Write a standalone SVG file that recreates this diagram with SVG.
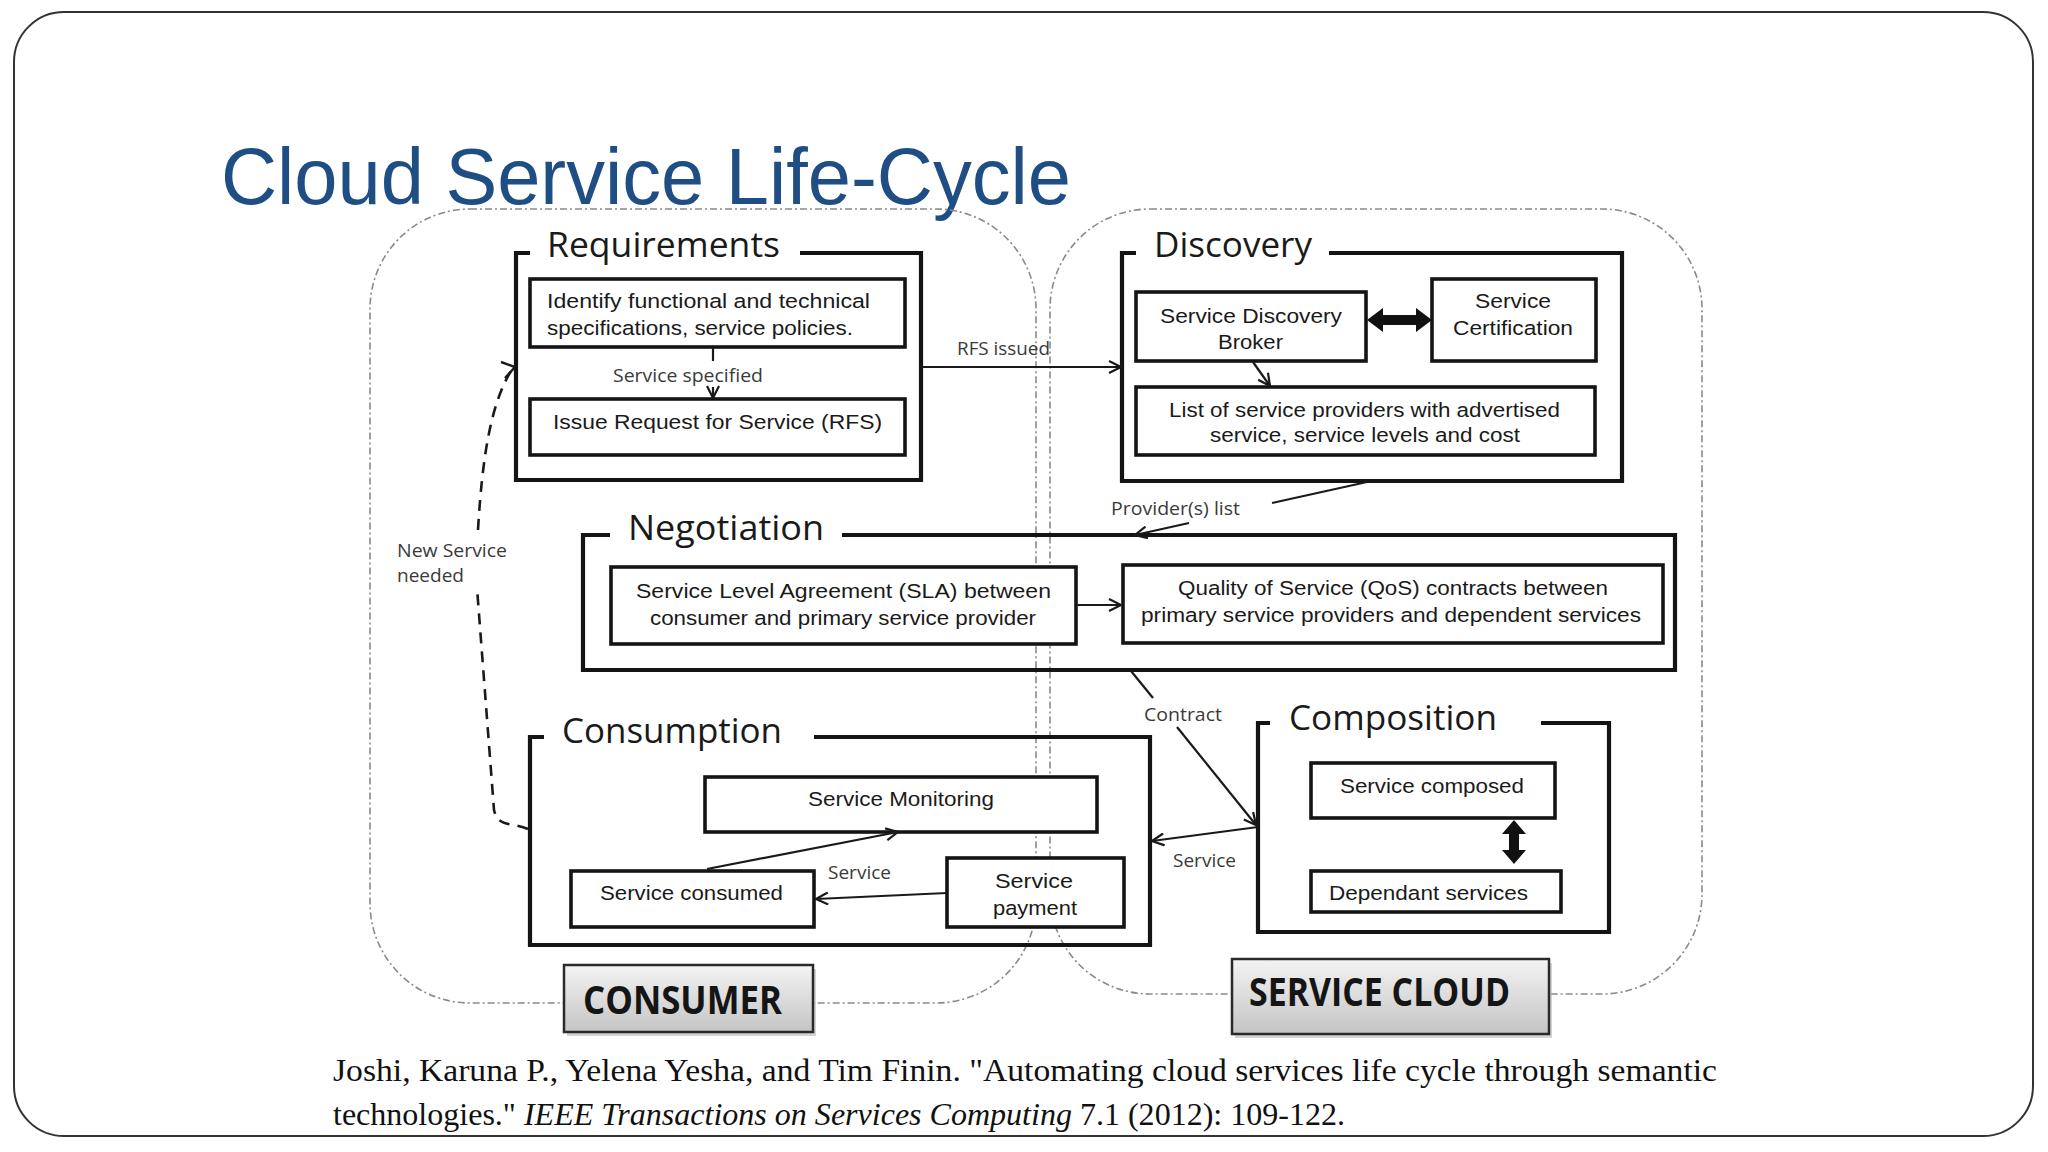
<svg xmlns="http://www.w3.org/2000/svg" width="2048" height="1152" viewBox="0 0 2048 1152">
<style>
.frame{fill:#fff;stroke:#333;stroke-width:2}
.region{fill:none;stroke:#8a8a8a;stroke-width:1.6;stroke-dasharray:7 3 2 3}
.sec{fill:none;stroke:#141414;stroke-width:4.2;stroke-linejoin:miter}
.box{fill:#fff;stroke:#141414;stroke-width:3.6}
.bt{font-family:"Liberation Sans",Arial,sans-serif;font-size:20.5px;fill:#1a1a1a}
.st{font-family:"Open Sans","Liberation Sans",sans-serif;font-size:35px;fill:#1a1a1a}
.lb{font-family:"Open Sans","Liberation Sans",sans-serif;font-size:18.5px;fill:#3a3a3a}
.ln{fill:none;stroke:#1a1a1a;stroke-width:2.2}
.dsh{fill:none;stroke:#1a1a1a;stroke-width:2.6;stroke-dasharray:11 8}
.big{font-family:"Open Sans","Liberation Sans",sans-serif;font-weight:bold;fill:#151515}
.cite{font-family:"Liberation Serif","Times New Roman",serif;font-size:32px;fill:#111}
</style>
<defs>
<marker id="arr" viewBox="0 0 14 14" refX="13" refY="7" markerWidth="14" markerHeight="14" markerUnits="userSpaceOnUse" orient="auto">
<path d="M1,1 L13,7 L1,13" fill="none" stroke="#1a1a1a" stroke-width="2.2"/>
</marker>
<linearGradient id="grad" x1="0" y1="0" x2="0" y2="1">
<stop offset="0" stop-color="#f4f4f4"/>
<stop offset="1" stop-color="#c4c4c4"/>
</linearGradient>
</defs>

<rect class="frame" x="14" y="12" width="2019" height="1124" rx="50" ry="50"/>

<text x="221" y="204" font-family="'Liberation Sans',Arial,sans-serif" font-size="80" fill="#1f4e85" textLength="850" lengthAdjust="spacingAndGlyphs">Cloud Service Life-Cycle</text>

<g id="regions">
<rect class="region" x="370" y="209" width="666" height="794" rx="100" ry="100"/>
<rect class="region" x="1050" y="209" width="652" height="785" rx="100" ry="100"/>
</g>

<g id="requirements">
<path class="sec" d="M530,253 L516,253 L516,480 L921,480 L921,253 L800,253"/>
<text class="st" x="547" y="257" textLength="233" lengthAdjust="spacingAndGlyphs">Requirements</text>
<g id="req-identify">
<rect class="box" x="530" y="279" width="375" height="68"/>
<text class="bt" x="547" y="308" textLength="323" lengthAdjust="spacingAndGlyphs">Identify functional and technical</text>
<text class="bt" x="547" y="335" textLength="306" lengthAdjust="spacingAndGlyphs">specifications, service policies.</text>
</g>
<g id="req-rfs">
<rect class="box" x="530" y="399" width="375" height="56"/>
<text class="bt" x="553" y="429" textLength="329" lengthAdjust="spacingAndGlyphs">Issue Request for Service (RFS)</text>
</g>
</g>

<g id="discovery">
<path class="sec" d="M1136,253 L1122,253 L1122,481 L1622,481 L1622,253 L1329,253"/>
<text class="st" x="1154" y="257" textLength="158" lengthAdjust="spacingAndGlyphs">Discovery</text>
<g id="disc-broker">
<rect class="box" x="1136" y="292" width="230" height="69"/>
<text class="bt" x="1160" y="323" textLength="182" lengthAdjust="spacingAndGlyphs">Service Discovery</text>
<text class="bt" x="1218" y="349" textLength="65" lengthAdjust="spacingAndGlyphs">Broker</text>
</g>
<g id="disc-cert">
<rect class="box" x="1432" y="279" width="164" height="82"/>
<text class="bt" x="1475" y="308" textLength="76" lengthAdjust="spacingAndGlyphs">Service</text>
<text class="bt" x="1453" y="335" textLength="120" lengthAdjust="spacingAndGlyphs">Certification</text>
</g>
<g id="disc-list">
<rect class="box" x="1136" y="387" width="459" height="68"/>
<text class="bt" x="1169" y="417" textLength="391" lengthAdjust="spacingAndGlyphs">List of service providers with advertised</text>
<text class="bt" x="1210" y="442" textLength="310" lengthAdjust="spacingAndGlyphs">service, service levels and cost</text>
</g>
</g>

<g id="negotiation">
<path class="sec" d="M610,535 L583,535 L583,670 L1675,670 L1675,535 L842,535"/>
<text class="st" x="628" y="540" textLength="196" lengthAdjust="spacingAndGlyphs">Negotiation</text>
<g id="neg-sla">
<rect class="box" x="611" y="567" width="465" height="77"/>
<text class="bt" x="636" y="598" textLength="415" lengthAdjust="spacingAndGlyphs">Service Level Agreement (SLA) between</text>
<text class="bt" x="650" y="625" textLength="386" lengthAdjust="spacingAndGlyphs">consumer and primary service provider</text>
</g>
<g id="neg-qos">
<rect class="box" x="1123" y="565" width="540" height="78"/>
<text class="bt" x="1178" y="595" textLength="430" lengthAdjust="spacingAndGlyphs">Quality of Service (QoS) contracts between</text>
<text class="bt" x="1141" y="622" textLength="500" lengthAdjust="spacingAndGlyphs">primary service providers and dependent services</text>
</g>
</g>

<g id="consumption">
<path class="sec" d="M544,737 L530,737 L530,945 L1150,945 L1150,737 L814,737"/>
<text class="st" x="562" y="743" textLength="220" lengthAdjust="spacingAndGlyphs">Consumption</text>
<g id="cons-monitoring">
<rect class="box" x="705" y="777" width="392" height="55"/>
<text class="bt" x="808" y="806" textLength="186" lengthAdjust="spacingAndGlyphs">Service Monitoring</text>
</g>
<g id="cons-consumed">
<rect class="box" x="571" y="871" width="243" height="56"/>
<text class="bt" x="600" y="900" textLength="183" lengthAdjust="spacingAndGlyphs">Service consumed</text>
</g>
<g id="cons-payment">
<rect class="box" x="947" y="858" width="177" height="69"/>
<text class="bt" x="995" y="888" textLength="78" lengthAdjust="spacingAndGlyphs">Service</text>
<text class="bt" x="993" y="915" textLength="84" lengthAdjust="spacingAndGlyphs">payment</text>
</g>
</g>

<g id="composition">
<path class="sec" d="M1270,723 L1258,723 L1258,932 L1609,932 L1609,723 L1541,723"/>
<text class="st" x="1289" y="730" textLength="208" lengthAdjust="spacingAndGlyphs">Composition</text>
<g id="comp-composed">
<rect class="box" x="1311" y="763" width="244" height="55"/>
<text class="bt" x="1340" y="793" textLength="184" lengthAdjust="spacingAndGlyphs">Service composed</text>
</g>
<g id="comp-dependant">
<rect class="box" x="1311" y="871" width="250" height="41"/>
<text class="bt" x="1329" y="900" textLength="199" lengthAdjust="spacingAndGlyphs">Dependant services</text>
</g>
</g>

<g id="consumer-label">
<rect x="567" y="969" width="249" height="67" fill="#b8b8b8" opacity="0.6"/>
<rect x="564" y="965" width="249" height="67" fill="url(#grad)" stroke="#2a2a2a" stroke-width="2.5"/>
<text class="big" x="583" y="1014" font-size="40" textLength="199" lengthAdjust="spacingAndGlyphs">CONSUMER</text>
</g>
<g id="service-cloud-label">
<rect x="1235" y="963" width="317" height="75" fill="#b8b8b8" opacity="0.6"/>
<rect x="1232" y="959" width="317" height="75" fill="url(#grad)" stroke="#2a2a2a" stroke-width="2.5"/>
<text class="big" x="1249" y="1006" font-size="40" textLength="261" lengthAdjust="spacingAndGlyphs">SERVICE CLOUD</text>
</g>

<g id="connectors">
<line class="ln" x1="713" y1="348" x2="713" y2="361"/>
<line class="ln" x1="713" y1="387" x2="713" y2="398" marker-end="url(#arr)"/>
<line class="ln" x1="921" y1="367" x2="1121" y2="367" marker-end="url(#arr)"/>
<line class="ln" x1="1253" y1="362" x2="1270" y2="386" marker-end="url(#arr)"/>
<polygon fill="#111" points="1367,320 1383,308 1383,315 1416,315 1416,308 1432,320 1416,332 1416,325 1383,325 1383,332"/>
<line class="ln" x1="1367" y1="482" x2="1272" y2="503"/>
<line class="ln" x1="1189" y1="523" x2="1135" y2="535" marker-end="url(#arr)"/>
<line class="ln" x1="1077" y1="605" x2="1121" y2="605" marker-end="url(#arr)"/>
<line class="ln" x1="1131" y1="671" x2="1153" y2="698"/>
<line class="ln" x1="1177" y1="727" x2="1256" y2="825" marker-end="url(#arr)"/>
<line class="ln" x1="1258" y1="827" x2="1152" y2="841" marker-end="url(#arr)"/>
<line class="ln" x1="707" y1="869" x2="898" y2="832" marker-end="url(#arr)"/>
<line class="ln" x1="947" y1="893" x2="816" y2="899" marker-end="url(#arr)"/>
<polygon fill="#111" points="1514,820 1526,834 1519,834 1519,850 1526,850 1514,864 1502,850 1509,850 1509,834 1502,834"/>
<path class="dsh" d="M528,829 C512,822 498,828 494,810 L477,588"/>
<path class="dsh" d="M478,530 C482,462 490,402 513,368"/>
<path d="M501,362 L515,367 L505,378" fill="none" stroke="#1a1a1a" stroke-width="2.4"/>
<text class="lb" x="957" y="355" textLength="93" lengthAdjust="spacingAndGlyphs">RFS issued</text>
<text class="lb" x="613" y="382" textLength="150" lengthAdjust="spacingAndGlyphs">Service specified</text>
<text class="lb" x="1111" y="515" textLength="129" lengthAdjust="spacingAndGlyphs">Provider(s) list</text>
<text class="lb" x="397" y="557" textLength="110" lengthAdjust="spacingAndGlyphs">New Service</text>
<text class="lb" x="397" y="582" textLength="67" lengthAdjust="spacingAndGlyphs">needed</text>
<text class="lb" x="1144" y="721" textLength="78" lengthAdjust="spacingAndGlyphs">Contract</text>
<text class="lb" x="828" y="879" textLength="63" lengthAdjust="spacingAndGlyphs">Service</text>
<text class="lb" x="1173" y="867" textLength="63" lengthAdjust="spacingAndGlyphs">Service</text>
</g>

<g id="citation">
<text class="cite" x="333" y="1081" textLength="1384" lengthAdjust="spacingAndGlyphs">Joshi, Karuna P., Yelena Yesha, and Tim Finin. "Automating cloud services life cycle through semantic</text>
<text class="cite" x="333" y="1125" textLength="1012" lengthAdjust="spacingAndGlyphs">technologies." <tspan font-style="italic">IEEE Transactions on Services Computing</tspan> 7.1 (2012): 109-122.</text>
</g>
</svg>
